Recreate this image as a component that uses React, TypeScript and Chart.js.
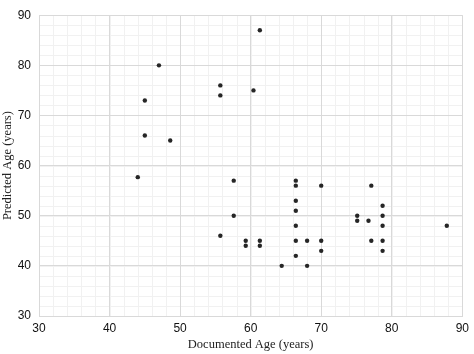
import React, { useEffect, useRef } from "react";
import { Chart, registerables } from "chart.js";

Chart.register(...registerables);

const documentedAge: number[] = [
  44, 47, 45, 45, 48.6, 55.7, 55.7, 61.3, 60.4, 57.6, 57.6, 55.7,
  66.4, 66.4, 70, 77.1, 66.4, 78.7, 66.4, 75.1, 78.7, 75.1, 76.7, 66.4,
  78.7, 87.8, 59.3, 59.3, 61.3, 61.3, 66.4, 68, 70, 77.1, 78.7, 70,
  78.7, 66.4, 64.4, 68,
];
const predictedAge: number[] = [
  57.7, 80, 73, 66, 65, 76, 74, 87, 75, 57, 50, 46,
  57, 56, 56, 56, 53, 52, 51, 50, 50, 49, 49, 48,
  48, 48, 45, 44, 45, 44, 45, 45, 45, 45, 45, 43,
  43, 42, 40, 40,
];
const axisMin = 30;
const axisMax = 90;
const majorStep = 10;
const minorStep = 2;
const xTitle = "Documented Age (years)";
const yTitle = "Predicted Age (years)";

const minorGrid = {
  id: "minorGrid",
  beforeDraw(chart: any) {
    const { ctx, chartArea, scales } = chart;
    const xs = scales.x;
    const ys = scales.y;
    ctx.save();
    ctx.strokeStyle = "#f1f1f1";
    ctx.lineWidth = 1;
    for (let v = axisMin; v <= axisMax; v += minorStep) {
      const px = Math.round(xs.getPixelForValue(v)) + 0.5;
      ctx.beginPath();
      ctx.moveTo(px, chartArea.top);
      ctx.lineTo(px, chartArea.bottom);
      ctx.stroke();
      const py = Math.round(ys.getPixelForValue(v)) + 0.5;
      ctx.beginPath();
      ctx.moveTo(chartArea.left, py);
      ctx.lineTo(chartArea.right, py);
      ctx.stroke();
    }
    ctx.restore();
  },
};

export default function App() {
  const ref = useRef<HTMLCanvasElement | null>(null);
  useEffect(() => {
    if (!ref.current) return;
    const data = documentedAge.map((x, i) => ({ x, y: predictedAge[i] }));
    const chart = new Chart(ref.current, {
      type: "scatter",
      data: {
        datasets: [
          {
            data,
            backgroundColor: "#262626",
            borderColor: "#262626",
            pointRadius: 2.2,
            pointHoverRadius: 2.2,
            borderWidth: 0,
          },
        ],
      },
      plugins: [minorGrid],
      options: {
        animation: false,
        responsive: false,
        maintainAspectRatio: false,
        layout: { padding: { top: 5, right: 0, left: 0, bottom: 0 } },
        plugins: { legend: { display: false }, tooltip: { enabled: false } },
        scales: {
          x: {
            type: "linear",
            min: axisMin,
            max: axisMax,
            afterFit: (s: any) => {
              s.height = 38;
            },
            ticks: {
              stepSize: majorStep,
              color: "#111",
              padding: 5,
              font: { family: "'Liberation Sans', Arial, sans-serif", size: 12 },
            },
            grid: { color: "#d9d9d9", drawTicks: false },
            border: { color: "#d9d9d9" },
            title: {
              display: true,
              text: xTitle,
              color: "#222",
              padding: { top: 0, bottom: 2 },
              font: { family: "'Liberation Serif', 'Times New Roman', serif", size: 12.5 },
            },
          },
          y: {
            type: "linear",
            min: axisMin,
            max: axisMax,
            afterFit: (s: any) => {
              s.width = 39;
            },
            ticks: {
              stepSize: majorStep,
              color: "#111",
              padding: 8,
              font: { family: "'Liberation Sans', Arial, sans-serif", size: 12 },
            },
            grid: { color: "#d9d9d9", drawTicks: false },
            border: { color: "#d9d9d9" },
            title: {
              display: true,
              text: yTitle,
              color: "#222",
              padding: { top: 0, bottom: 0 },
              font: { family: "'Liberation Serif', 'Times New Roman', serif", size: 12.5 },
            },
          },
        },
      },
    });
    return () => chart.destroy();
  }, []);
  return (
    <div style={{ position: "absolute", left: 0, top: 0, width: 474, height: 354, background: "#fff" }}>
      <canvas ref={ref} width={474} height={354} style={{ width: 474, height: 354 }} />
    </div>
  );
}
